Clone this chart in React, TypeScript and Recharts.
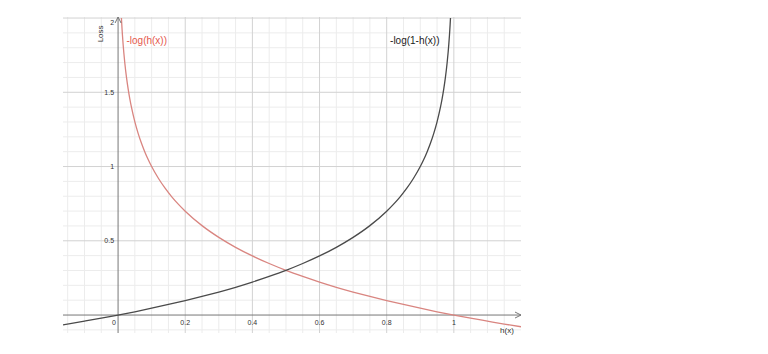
import React from 'react';
import { LineChart, Line, XAxis, YAxis, ReferenceLine, ReferenceDot } from 'recharts';

const redCurve = [
  { x: 0.01, y: 2 }, { x: 0.011, y: 1.959 }, { x: 0.012, y: 1.921 }, { x: 0.013, y: 1.886 },
  { x: 0.015, y: 1.824 }, { x: 0.017, y: 1.77 }, { x: 0.02, y: 1.699 }, { x: 0.025, y: 1.602 },
  { x: 0.03, y: 1.523 }, { x: 0.035, y: 1.456 }, { x: 0.04, y: 1.398 }, { x: 0.05, y: 1.301 },
  { x: 0.06, y: 1.222 }, { x: 0.07, y: 1.155 }, { x: 0.08, y: 1.097 }, { x: 0.09, y: 1.046 },
  { x: 0.1, y: 1 }, { x: 0.12, y: 0.921 }, { x: 0.14, y: 0.854 }, { x: 0.16, y: 0.796 },
  { x: 0.18, y: 0.745 }, { x: 0.2, y: 0.699 }, { x: 0.25, y: 0.602 }, { x: 0.3, y: 0.523 },
  { x: 0.35, y: 0.456 }, { x: 0.4, y: 0.398 }, { x: 0.45, y: 0.347 }, { x: 0.5, y: 0.301 },
  { x: 0.55, y: 0.26 }, { x: 0.6, y: 0.222 }, { x: 0.65, y: 0.187 }, { x: 0.7, y: 0.155 },
  { x: 0.75, y: 0.125 }, { x: 0.8, y: 0.097 }, { x: 0.85, y: 0.071 }, { x: 0.9, y: 0.046 },
  { x: 0.95, y: 0.022 }, { x: 1, y: 0 }, { x: 1.05, y: -0.021 }, { x: 1.1, y: -0.041 },
  { x: 1.15, y: -0.061 }, { x: 1.2, y: -0.079 },
];

const blackCurve = [
  { x: -0.164, y: -0.066 }, { x: -0.1, y: -0.041 }, { x: -0.05, y: -0.021 }, { x: 0, y: 0 },
  { x: 0.05, y: 0.022 }, { x: 0.1, y: 0.046 }, { x: 0.15, y: 0.071 }, { x: 0.2, y: 0.097 },
  { x: 0.25, y: 0.125 }, { x: 0.3, y: 0.155 }, { x: 0.35, y: 0.187 }, { x: 0.4, y: 0.222 },
  { x: 0.45, y: 0.26 }, { x: 0.5, y: 0.301 }, { x: 0.55, y: 0.347 }, { x: 0.6, y: 0.398 },
  { x: 0.65, y: 0.456 }, { x: 0.7, y: 0.523 }, { x: 0.75, y: 0.602 }, { x: 0.8, y: 0.699 },
  { x: 0.82, y: 0.745 }, { x: 0.84, y: 0.796 }, { x: 0.86, y: 0.854 }, { x: 0.88, y: 0.921 },
  { x: 0.9, y: 1 }, { x: 0.91, y: 1.046 }, { x: 0.92, y: 1.097 }, { x: 0.93, y: 1.155 },
  { x: 0.94, y: 1.222 }, { x: 0.95, y: 1.301 }, { x: 0.96, y: 1.398 }, { x: 0.965, y: 1.456 },
  { x: 0.97, y: 1.523 }, { x: 0.975, y: 1.602 }, { x: 0.98, y: 1.699 }, { x: 0.983, y: 1.77 },
  { x: 0.985, y: 1.824 }, { x: 0.987, y: 1.886 }, { x: 0.988, y: 1.921 }, { x: 0.989, y: 1.959 },
  { x: 0.99, y: 2 },
];

const xDomain = [-0.164, 1.2];
const yDomain = [-0.121, 2.007];

const xMinorGrid = [-0.15, -0.1, -0.05, 0.05, 0.1, 0.15, 0.25, 0.3, 0.35, 0.45, 0.5, 0.55, 0.65, 0.7, 0.75, 0.85, 0.9, 0.95, 1.05, 1.1, 1.15];
const xMajorGrid = [0.2, 0.4, 0.6, 0.8, 1];
const yMinorGrid = [-0.1, 0.1, 0.2, 0.3, 0.4, 0.6, 0.7, 0.8, 0.9, 1.1, 1.2, 1.3, 1.4, 1.6, 1.7, 1.8, 1.9];
const yMajorGrid = [0.5, 1, 1.5, 2];

const xTickLabels = [
  { v: 0.2, t: '0.2' }, { v: 0.4, t: '0.4' }, { v: 0.6, t: '0.6' }, { v: 0.8, t: '0.8' }, { v: 1, t: '1' },
];
const yTickLabels = [
  { v: 0.5, t: '0.5' }, { v: 1, t: '1' }, { v: 1.5, t: '1.5' }, { v: 2, t: '2' },
];

const FONT = 'Arial, "Liberation Sans", sans-serif';

const textAt = (txt: string, dx: number, dy: number, anchor: string, size: number, color: string, rotate = false) =>
  (p: any) => {
    const x = p.cx + dx;
    const y = p.cy + dy;
    return (
      <text
        x={x}
        y={y}
        textAnchor={anchor as any}
        dominantBaseline="central"
        fontSize={size}
        fontFamily={FONT}
        fill={color}
        transform={rotate ? `rotate(-90 ${x} ${y})` : undefined}
      >
        {txt}
      </text>
    );
  };

const arrowRight = (p: any) => (
  <path d={`M${p.cx - 6},${p.cy - 3} L${p.cx},${p.cy} L${p.cx - 6},${p.cy + 3}`} fill="none" stroke="#777" strokeWidth={1} />
);
const arrowUp = (p: any) => (
  <path d={`M${p.cx - 3},${p.cy + 6} L${p.cx},${p.cy} L${p.cx + 3},${p.cy + 6}`} fill="none" stroke="#777" strokeWidth={1} />
);

export default function App() {
  return (
    <LineChart width={768} height={346} margin={{ top: 9, right: 255, bottom: 21, left: 55 }}>
      <XAxis type="number" dataKey="x" domain={xDomain} allowDataOverflow hide />
      <YAxis type="number" dataKey="y" domain={yDomain} allowDataOverflow hide />
      {xMinorGrid.map((v) => (
        <ReferenceLine key={'xm' + v} x={v} stroke="#ececec" strokeWidth={1} ifOverflow="hidden" />
      ))}
      {yMinorGrid.map((v) => (
        <ReferenceLine key={'ym' + v} y={v} stroke="#ececec" strokeWidth={1} ifOverflow="hidden" />
      ))}
      {xMajorGrid.map((v) => (
        <ReferenceLine key={'xM' + v} x={v} stroke="#d2d2d2" strokeWidth={1} ifOverflow="hidden" />
      ))}
      {yMajorGrid.map((v) => (
        <ReferenceLine key={'yM' + v} y={v} stroke="#d2d2d2" strokeWidth={1} ifOverflow="hidden" />
      ))}
      <ReferenceLine y={0} stroke="#777" strokeWidth={1} />
      <ReferenceLine x={0} stroke="#777" strokeWidth={1} />
      <ReferenceDot x={1.2} y={0} r={0} shape={arrowRight} />
      <ReferenceDot x={0} y={2.007} r={0} shape={arrowUp} />
      <ReferenceDot x={0} y={0} r={0} shape={textAt('0', -4, 7, 'middle', 7, '#333')} />
      {xTickLabels.map((d) => (
        <ReferenceDot key={'xt' + d.v} x={d.v} y={0} r={0} shape={textAt(d.t, 0, 7, 'middle', 7, '#333')} />
      ))}
      {yTickLabels.map((d) => (
        <ReferenceDot key={'yt' + d.v} x={0} y={d.v} r={0} shape={textAt(d.t, -4, d.v === 2 ? 4 : 0, 'end', 7, '#333')} />
      ))}
      <ReferenceDot x={0} y={1.9} r={0} shape={textAt('Loss', -18, 1, 'middle', 8, '#333', true)} />
      <ReferenceDot x={1.2} y={0} r={0} shape={textAt('h(x)', -14, 15, 'middle', 8, '#333')} />
      <ReferenceDot x={0.025} y={1.85} r={0} shape={textAt('-log(h(x))', 0, 0, 'start', 10, '#e5584c')} />
      <ReferenceDot x={0.81} y={1.85} r={0} shape={textAt('-log(1-h(x))', 0, 0, 'start', 10, '#222')} />
      <Line data={redCurve} dataKey="y" type="monotone" stroke="#d98580" strokeWidth={1.3} dot={false} isAnimationActive={false} />
      <Line data={blackCurve} dataKey="y" type="monotone" stroke="#4a4a4a" strokeWidth={1.3} dot={false} isAnimationActive={false} />
    </LineChart>
  );
}
